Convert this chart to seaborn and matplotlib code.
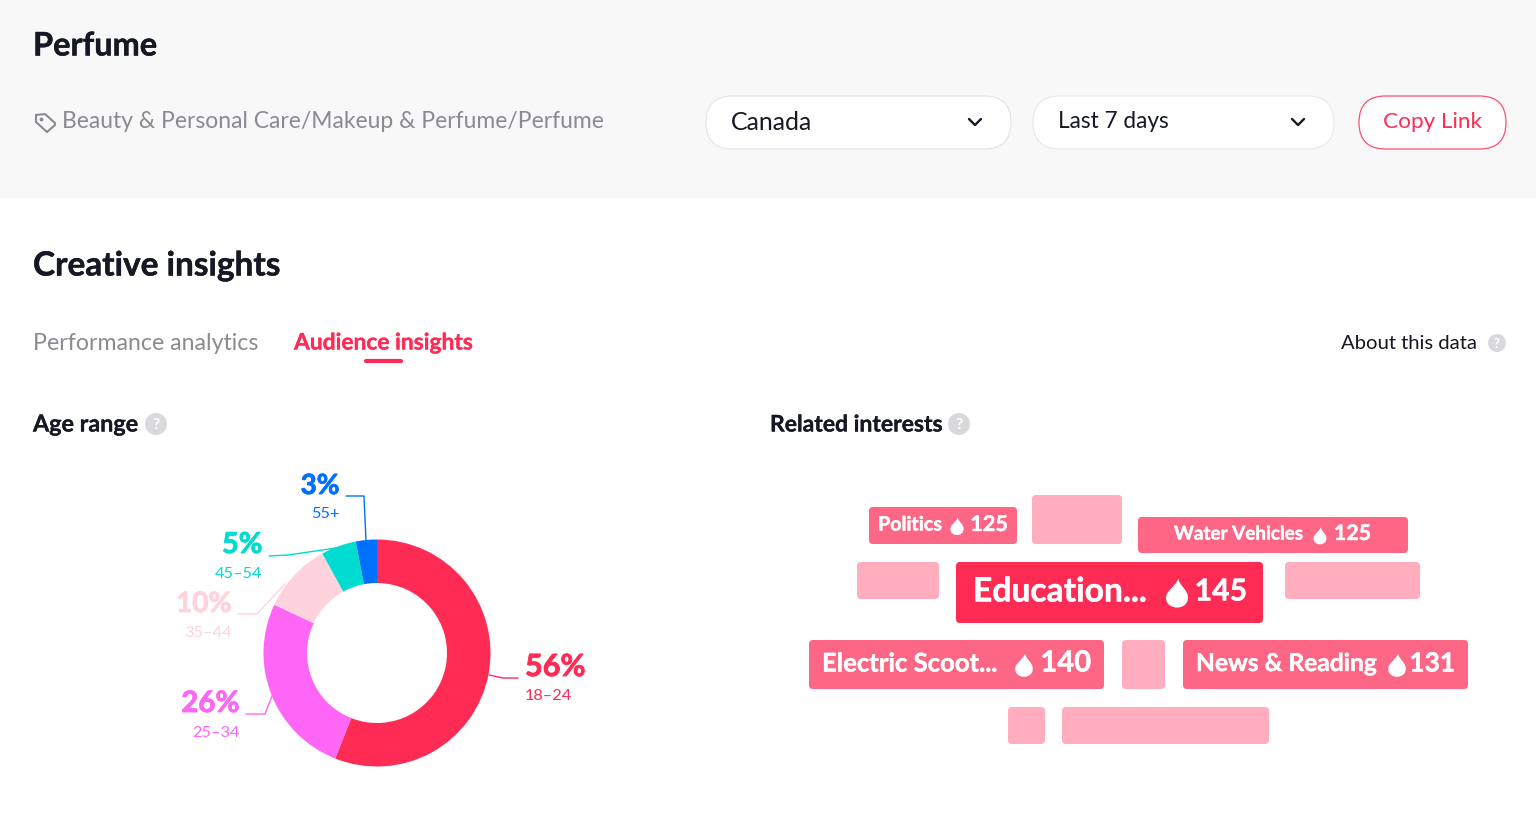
import matplotlib
matplotlib.use('Agg')
import matplotlib.pyplot as plt
import matplotlib.patheffects as pe
import seaborn as sns
from matplotlib.patches import FancyBboxPatch, PathPatch, Circle, Rectangle
from matplotlib.path import Path

# donut data
age_ranges = ['18-24', '25-34', '35-44', '45-54', '55+']
age_shares = [56, 26, 10, 5, 3]
age_colors = ['#FE2C55', '#FF66F5', '#FFD3DB', '#00DCD0', '#0070FF']

# related interests (None = hidden tile)
interest_names = ['Politics', None, 'Water Vehicles', None, 'Education...', None,
                  'Electric Scoot...', None, 'News & Reading', None, None]
interest_scores = [125, None, 125, None, 145, None, 140, None, 131, None, None]

sns.set_theme(style='white')
plt.rcParams['font.family'] = ['Lato', 'DejaVu Sans']

W, H = 1536, 813
fig = plt.figure(figsize=(W / 100, H / 100), dpi=100, facecolor='white')
ax = fig.add_axes([0, 0, 1, 1])
ax.set_xlim(0, W)
ax.set_ylim(H, 0)
ax.axis('off')

DARK = '#161823'
RED = '#FE2C55'
MID = '#FE6685'
LIGHT = '#FFADBF'
GREY = '#8A8B91'


def pill(x0, y0, x1, y1, radius, face, edge='none', lw=0.8, z=2):
    ax.add_patch(FancyBboxPatch((x0, y0), x1 - x0, y1 - y0,
                                boxstyle=f'round,pad=0,rounding_size={radius}',
                                fc=face, ec=edge, lw=lw, zorder=z))


def flame(cx, cy, s, color='white'):
    pts = [(0.1, -1.05), (0.2, -0.5), (0.78, -0.3), (0.78, 0.3),
           (0.78, 0.75), (0.42, 1.0), (0.0, 1.0),
           (-0.42, 1.0), (-0.78, 0.75), (-0.78, 0.3),
           (-0.78, -0.2), (-0.25, -0.35), (0.1, -1.05)]
    codes = [Path.MOVETO] + [Path.CURVE4] * 12
    verts = [(cx + a * s, cy + b * s) for a, b in pts]
    ax.add_patch(PathPatch(Path(verts, codes), fc=color, ec='none', zorder=4))


def heavy(txt, color, w=0.5):
    # the original face is a bit heavier than Lato Bold
    txt.set_path_effects([pe.withStroke(linewidth=w, foreground=color)])


def help_icon(cx, cy, r=11):
    ax.add_patch(Circle((cx, cy), r, fc='#D9D9DB', ec='none', zorder=3))
    ax.text(cx, cy + 0.5, '?', color='white', fontsize=r * 1.05, fontweight='bold',
            ha='center', va='center', zorder=4)


def chevron(cx, cy, s=6):
    ax.plot([cx - s, cx, cx + s], [cy - 3, cy + 3, cy - 3], color=DARK, lw=1.7, zorder=4,
            solid_capstyle='round', solid_joinstyle='round')


# header band
ax.add_patch(Rectangle((0, 0), W, 198, fc='#F8F8F8', ec='none', zorder=0))
heavy(ax.text(33, 46, 'Perfume', fontsize=23.4, fontweight='bold', color=DARK, va='center'), DARK, 0.3)

# tag icon
ax.plot([36, 45, 55, 55, 47, 36, 36], [115, 114, 123, 125, 132, 122, 115],
        color=GREY, lw=1.5, zorder=3, solid_joinstyle='round')
ax.plot([41], [119], marker='o', ms=1.8, color=GREY, zorder=3)
ax.text(62, 122, 'Beauty & Personal Care/Makeup & Perfume/Perfume', fontsize=16.48,
        color=GREY, va='center')

# dropdowns
pill(706, 96, 1011, 149, 26.5, 'white', '#E3E3E4')
ax.text(731, 122, 'Canada', fontsize=17.9, color=DARK, va='center', zorder=4)
chevron(975, 122)
pill(1033, 96, 1334, 149, 26.5, 'white', '#E8E8E9')
ax.text(1058, 122, 'Last 7 days', fontsize=16.3, color=DARK, va='center', zorder=4)
chevron(1298, 122)
pill(1359, 96, 1506, 149, 26.5, 'white', '#FE4F70', lw=0.9)
ax.text(1432.5, 122, 'Copy Link', fontsize=16.2, color=RED, ha='center', va='center', zorder=4)

# section head and tabs
heavy(ax.text(33, 266, 'Creative insights', fontsize=24, fontweight='bold', color=DARK, va='center'), DARK, 0.3)
ax.text(33, 343, 'Performance analytics', fontsize=16.7, color=GREY, va='center')
heavy(ax.text(294, 343, 'Audience insights', fontsize=16.4, fontweight='bold', color=RED, va='center'), RED, 0.2)
ax.plot([366, 401], [361, 361], color=RED, lw=3, solid_capstyle='round', zorder=3)
ax.text(1477, 343, 'About this data', fontsize=14.6, color=DARK, ha='right', va='center')
help_icon(1497, 343, 9)

heavy(ax.text(33, 425, 'Age range', fontsize=16.8, fontweight='bold', color=DARK, va='center'), DARK, 0.2)
help_icon(156, 424)
heavy(ax.text(770, 425, 'Related interests', fontsize=16.5, fontweight='bold', color=DARK, va='center'), DARK, 0.2)
help_icon(959, 424)

# donut
cx, cy, R = 377, 653, 113.5
ax_pie = fig.add_axes([(cx - R) / W, 1 - (cy + R) / H, 2 * R / W, 2 * R / H])
ax_pie.pie(age_shares, colors=age_colors, startangle=90, counterclock=False, radius=1,
           wedgeprops={'width': 43.5 / R, 'linewidth': 0})
ax_pie.set_xlim(-1, 1)
ax_pie.set_ylim(-1, 1)
ax_pie.patch.set_alpha(0)

# labels beside the donut: anchor x, share y, range y, alignment, share font size, leader line
label_layout = [
    (525, 667, 696, 'left', 22.0, [(518, 678), (503, 678), (489, 675)]),
    (239.5, 704, 733, 'right', 21.2, [(246, 714), (265, 714), (272, 696)]),
    (231.5, 604, 633, 'right', 20.2, [(238, 614), (257, 614), (285, 584)]),
    (262.5, 545, 574, 'right', 20.8, [(269, 556), (288, 555), (336, 548), (355, 545)]),
    (339.5, 486, 514, 'right', 20, [(346, 496), (364, 496), (366, 541)]),
]
for share, rng, col, (lx, y1, y2, ha, fs, line) in zip(age_shares, age_ranges, age_colors, label_layout):
    heavy(ax.text(lx, y1, f'{share}%', color=col, fontsize=fs, fontweight='bold', ha=ha, va='center'), col, 0.6)
    ax.text(lx, y2, rng.replace('-', '\u2013'), color=col, fontsize=11.8, ha=ha, va='center')
    ax.plot([p[0] for p in line], [p[1] for p in line], color=col, lw=1, zorder=3)

# interest tiles: x0, y0, x1, y1, name x, score right edge, flame x, name font, score font
tile_layout = [
    (869, 507, 1017, 544, 878, 1008, 957, 14.2, 15.6),
    (1032, 495, 1122, 544, 0, 0, 0, 0, 0),
    (1138, 517, 1408, 553, 1174, 1371, 1320, 13.6, 15.4),
    (857, 562, 939, 599, 0, 0, 0, 0, 0),
    (956, 562, 1263, 623, 973, 1247, 1177, 24.2, 21.7),
    (1285, 562, 1420, 599, 0, 0, 0, 0, 0),
    (809, 640, 1104, 689, 822, 1091, 1024, 18.5, 21),
    (1122, 640, 1165, 689, 0, 0, 0, 0, 0),
    (1183, 640, 1468, 689, 1196, 1455, 1397, 17.7, 19),
    (1008, 707, 1045, 744, 0, 0, 0, 0, 0),
    (1062, 707, 1269, 744, 0, 0, 0, 0, 0),
]
top_score = max(s for s in interest_scores if s)
for name, score, (x0, y0, x1, y1, nx, sx, fx, fs, fs2) in zip(interest_names, interest_scores, tile_layout):
    if name is None:
        pill(x0, y0, x1, y1, 4, LIGHT)
        continue
    pill(x0, y0, x1, y1, 4, RED if score == top_score else MID)
    ym = (y0 + y1) / 2 - 1
    heavy(ax.text(nx, ym, name, color='white', fontsize=fs, fontweight='bold', va='center', zorder=4), 'white', 0.3)
    heavy(ax.text(sx, ym, str(score), color='white', fontsize=fs2, fontweight='bold',
                  ha='right', va='center', zorder=4), 'white', 0.3)
    flame(fx, ym + 2, (y1 - y0) * 0.23)

fig.savefig('out.png', dpi=100, facecolor='white')
